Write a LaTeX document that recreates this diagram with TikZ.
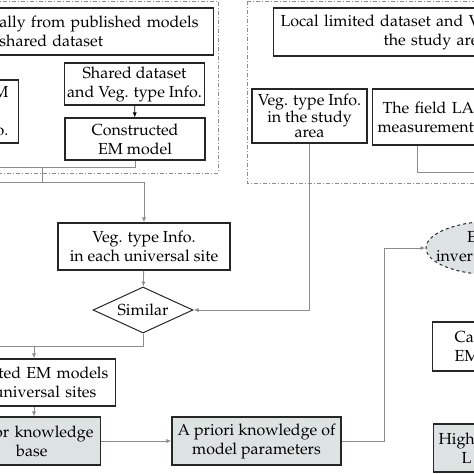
\documentclass[tikz,border=0pt]{standalone}
\usepackage[T1]{fontenc}
\renewcommand{\rmdefault}{ppl}
\usetikzlibrary{arrows.meta,positioning,shapes.geometric}

\definecolor{boxgray}{HTML}{DDE2E2}
\definecolor{linegray}{HTML}{8C8C8C}

\begin{document}
\begin{tikzpicture}[x=1pt, y=-1pt, >={Latex[length=5pt,width=4pt]},
                    font=\fontsize{16}{19}\selectfont,
                    box/.style={draw=black!85, line width=1.1pt, align=center, inner sep=3pt},
                    gbox/.style={box, fill=boxgray},
                    line/.style={draw=linegray, line width=0.9pt},
                    region/.style={draw=linegray, line width=0.8pt, dash pattern=on 4pt off 2pt on 1pt off 2pt}]
    \useasboundingbox (0,0) rectangle (474,474);
    \clip (0,0) rectangle (474,474);

    % dash-dot regions
    \draw[region] (-10,1) rectangle (218,173);
    \draw[region] (247,1) rectangle (490,183);

    % left region
    \node[box, anchor=east, minimum height=47pt, text width=200pt, align=left, inner xsep=14pt] (pub) at (214,31.5)
        {ally from published models\\shared dataset};
    \node[box, anchor=east, minimum height=63pt, align=right, inner xsep=10pt] (pem) at (19,111.5)
        {M\\\mbox{}\\o.};
    \node[box, minimum width=139pt, minimum height=42pt] (shr) at (134.5,84) {Shared dataset\\and Veg. type Info.};
    \node[box, minimum width=140pt, minimum height=42pt] (emc) at (135,139) {Constructed\\EM model};

    % right region
    \node[box, anchor=west, minimum width=240pt, minimum height=48pt, text width=230pt, align=left, inner xsep=7pt] (loc) at (273,32)
        {Local limited dataset and V\\\hspace*{103pt}the study are};
    \node[box, minimum width=115pt, minimum height=54pt, font=\fontsize{16}{15.5}\selectfont] (vsa) at (309.5,116)
        {Veg. type Info.\\in the study\\area};
    \node[box, anchor=west, minimum width=130pt, minimum height=56pt, text width=120pt, align=left, inner xsep=4pt] (fld) at (372,117)
        {\hspace*{5pt}The field LA\\measurement};

    % middle
    \node[box, minimum width=172pt, minimum height=47pt] (uni) at (144,246.5) {Veg. type Info.\\in each universal site};
    \node[draw=black!85, line width=1pt, diamond, aspect=2.2, minimum width=100pt, minimum height=46pt, inner sep=0pt] (sim) at (143,310) {Similar};
    \node[box, anchor=east, minimum height=47pt, text width=130pt, align=right, inner xsep=7pt] (emu) at (116,382.5)
        {ted EM models\\universal sites\makebox[12pt]{}};
    \node[gbox, anchor=east, minimum height=48pt, text width=130pt, align=right, inner xsep=7pt] (pkb) at (101,441)
        {or knowledge\\base\makebox[46pt]{}};
    \node[gbox, minimum width=169pt, minimum height=48pt] (apr) at (256.5,441) {A priori knowledge of\\model parameters};
    \node[draw=black!85, line width=1pt, dashed, fill=boxgray, ellipse, minimum width=138pt, minimum height=53pt, inner sep=0pt] (inv) at (495,248)
        {\makebox[0pt][l]{\hspace*{-59pt}\begin{tabular}{@{}l@{}}\hspace*{31pt}E\\inver\end{tabular}}};
    \node[box, anchor=west, minimum width=80pt, minimum height=49pt, text width=60pt, align=left, inner xsep=22pt] (cal) at (432,346.5)
        {Ca\\EM};
    \node[gbox, anchor=west, minimum width=80pt, minimum height=48pt, text width=70pt, align=left, inner xsep=5pt] (hig) at (433,448)
        {High\\\hspace*{23pt}L};

    \coordinate (jw) at (-5,167);
    \coordinate (jl) at (42,167);
    \coordinate (jm) at (42,182);
    \coordinate (jv) at (-5,182);
    \coordinate (jb) at (-5,346);
    \coordinate (ja) at (34,346);
    \coordinate (jr) at (384,248);
    \coordinate (jf) at (417,172);
    \coordinate (je) at (490,172);

    \draw[->, line width=0.8pt] (shr) -- (emc);
    \draw[line] (emc.south) |- (jw);
    \draw[line] (jl) -- (jm);
    \draw[line, ->] (jv) -| (uni.north);
    \draw[line, ->] (uni) -- (sim);
    \draw[line, ->] (vsa.south) |- (sim.east);
    \draw[line] (sim.south) |- (jb);
    \draw[line, ->] (ja) -- (ja |- emu.north);
    \draw[line, ->] (ja |- emu.south) -- (ja |- pkb.north);
    \draw[line, ->] (pkb) -- (apr);
    \draw[line, ->] (apr.east) -| (jr) -- (inv.west);
    \draw[line] (jf |- fld.south) |- (je);
\end{tikzpicture}
\end{document}
